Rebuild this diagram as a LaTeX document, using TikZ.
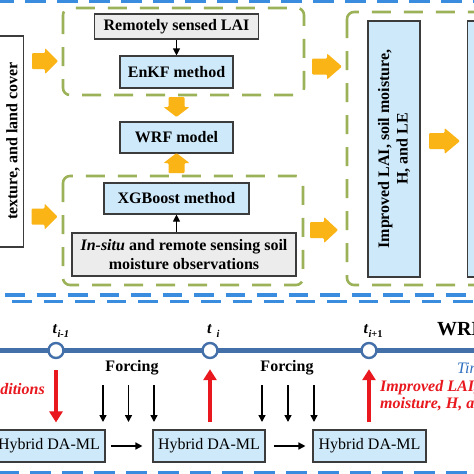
\documentclass[tikz,border=0pt]{standalone}
\usepackage{fontspec}
\setmainfont{Liberation Serif}
\usetikzlibrary{arrows.meta}
\definecolor{orangeC}{RGB}{251,180,22}
\definecolor{greenC}{RGB}{155,178,88}
\definecolor{dashblue}{RGB}{58,140,222}
\definecolor{lineblue}{RGB}{68,112,170}
\definecolor{boxblue}{RGB}{206,233,250}
\definecolor{boxgray}{RGB}{236,236,236}
\definecolor{redC}{RGB}{232,24,30}
\definecolor{edgeC}{RGB}{60,60,60}
\definecolor{timeblue}{RGB}{46,110,190}
\newcommand\orangearr[4]{%
  \begin{scope}[shift={(#1,#2)},rotate=#3]
    \fill[orangeC,rounded corners=1pt] (-#4/2,-8) -- (0,-8) -- (0,-13) -- (#4/2,0) -- (0,13) -- (0,8) -- (-#4/2,8) -- cycle;
  \end{scope}}
\tikzset{
  base/.style={font=\fontsize{16}{18.5}\selectfont},
  bfs/.style={font=\fontsize{16}{18.5}\selectfont\bfseries},
  bluebox/.style={draw=edgeC, line width=1.1pt, fill=boxblue, inner sep=0pt},
  graybox/.style={draw=edgeC, line width=1.1pt, fill=boxgray, inner sep=0pt},
  grpbox/.style={draw=greenC, line width=2.6pt, dash pattern=on 19pt off 13pt, rounded corners=7pt},
  sepline/.style={draw=dashblue, line width=3.6pt},
  thinarr/.style={draw=black, line width=1.1pt, -{Triangle[length=7pt,width=7pt]}},
  forcearr/.style={draw=black, line width=1.5pt, -{Triangle[length=7pt,width=7pt]}},
  redarr/.style={draw=redC, line width=3.6pt, -{Triangle[length=11pt,width=13pt]}},
  tcircle/.style={circle, draw=lineblue, line width=2.4pt, fill=white, minimum size=15pt, inner sep=0pt},
  txt/.style={inner sep=0pt},
}
\begin{document}
\begin{tikzpicture}[x=1pt,y=-1pt]
\useasboundingbox (0,0) rectangle (474,474);
\fill[white] (0,0) rectangle (474,474);
\clip (0,0) rectangle (474,474);

% blue separator lines
\draw[sepline, line width=5pt, dash pattern=on 21pt off 11pt] (-7,0.5) -- (490,0.5);
\draw[sepline, dash pattern=on 19.5pt off 12pt] (5,295) -- (490,295);
\draw[sepline, dash pattern=on 19.5pt off 12pt] (12,301.5) -- (490,301.5);
\draw[sepline, line width=5pt, dash pattern=on 20.5pt off 11.5pt] (-2,473) -- (490,473);

% left box
\node[draw=edgeC, line width=1.1pt, fill=white, minimum width=70pt, minimum height=211pt, anchor=east] (leftbox) at (24,141.5) {};
\node[bfs, txt, rotate=90] (lefttxt) at (13,141) {texture, and land cover};

% green group boxes
\draw[grpbox] (63,8) rectangle (304,95);
\draw[grpbox] (63,176) rectangle (303,285);
\draw[grpbox] (347,12) rectangle (520,285);

% middle column
\node[graybox, bfs, minimum width=164pt, minimum height=25pt] (rs) at (176.5,26.5) {Remotely sensed LAI};
\node[bluebox, bfs, minimum width=113pt, minimum height=32pt] (enkf) at (176.5,72) {EnKF method};
\node[bluebox, bfs, minimum width=113pt, minimum height=31pt] (wrf) at (176.5,137.5) {WRF model};
\node[bluebox, bfs, minimum width=145pt, minimum height=31pt] (xgb) at (176.5,198.5) {XGBoost method};
\node[graybox, bfs, minimum width=224pt, minimum height=43pt, align=center] (obs) at (184,254.5) {\textit{In-situ} and remote sensing soil\\moisture observations};
\draw[thinarr] (rs) -- (enkf);
\draw[thinarr] (obs.north -| xgb.south) -- (xgb.south);

% right column
\node[bluebox, bfs, rotate=90, minimum width=256pt, minimum height=52pt, align=center] (imp) at (394,149) {Improved LAI, soil moisture,\\H, and LE};
\node[bluebox, minimum width=60pt, minimum height=256pt, anchor=west] (nextbox) at (467,149) {};

% orange block arrows
\orangearr{45}{61}{0}{26}
\orangearr{44.5}{216.5}{0}{26}
\orangearr{176.5}{107}{-90}{20}
\orangearr{176.5}{163}{90}{20}
\orangearr{327}{66.5}{0}{30}
\orangearr{324}{230}{0}{28}
\orangearr{444.5}{141}{0}{31}

% timeline
\draw[lineblue, line width=4.5pt] (-5,350.5) -- (490,350.5);
\node[tcircle] (c1) at (56,350.5) {};
\node[tcircle] (c2) at (210,350.5) {};
\node[tcircle] (c3) at (369,350.5) {};
\node[base, txt, anchor=base west] (t1) at (52.5,333) {\textbf{\textit{t}}\raisebox{-4pt}{\fontsize{10.5}{11}\selectfont\textbf{\textit{i-1}}}};
\node[base, txt, anchor=base west] (t2) at (207,333) {\textbf{\textit{t}}\hspace{4.5pt}\raisebox{-4pt}{\fontsize{10.5}{11}\selectfont\textbf{\textit{i}}}};
\node[base, txt, anchor=base west] (t3) at (363.5,333) {\textbf{\textit{t}}\raisebox{-4pt}{\fontsize{10.5}{11}\selectfont\textbf{\textit{i}+1}}};
\node[txt, anchor=base west, font=\fontsize{20}{22}\selectfont\bfseries] (wrflabel) at (437,335) {WRF};
\node[txt, anchor=base west, base, text=timeblue] (timelabel) at (457,373) {\textit{Time}};

% forcing
\node[bfs, txt] (forc1) at (132,368) {Forcing};
\node[bfs, txt] (forc2) at (287,368) {Forcing};
\foreach \n/\x in {a/103,b/128.5,c/154,d/262,e/288,f/314}{
  \coordinate (fs\n) at (\x,385);
  \coordinate (fe\n) at (\x,422);
  \draw[forcearr] (fs\n) -- (fe\n);
}

% hybrid boxes
\node[bluebox, base, minimum width=112pt, minimum height=32pt] (h1) at (49,446) {Hybrid DA-ML};
\node[bluebox, base, minimum width=112pt, minimum height=32pt] (h2) at (209,446) {Hybrid DA-ML};
\node[bluebox, base, minimum width=113pt, minimum height=32pt] (h3) at (369.5,446) {Hybrid DA-ML};
\draw[forcearr, shorten <=5pt, shorten >=10pt] (h1.east) -- (h2.west);
\draw[forcearr, shorten <=8pt, shorten >=7pt] (h2.east) -- (h3.west);

% red arrows
\draw[redarr, shorten <=11pt, shorten >=7pt] (c1.south) -- (h1.north -| c1);
\draw[redarr, shorten <=7pt, shorten >=10pt] (h2.north -| c2) -- (c2.south);
\draw[redarr, shorten <=7pt, shorten >=10pt] (h3.north -| c3) -- (c3.south);

% red labels
\node[bfs, txt, anchor=base east, text=redC] (initlabel) at (45,394) {\textit{ditions}};
\node[bfs, txt, anchor=base west, text=redC] (imp1) at (380,391) {\textit{Improved LAI, soil}};
\node[bfs, txt, anchor=base west, text=redC] (imp2) at (380,408.5) {\textit{moisture, H, and LE}};
\end{tikzpicture}
\end{document}
